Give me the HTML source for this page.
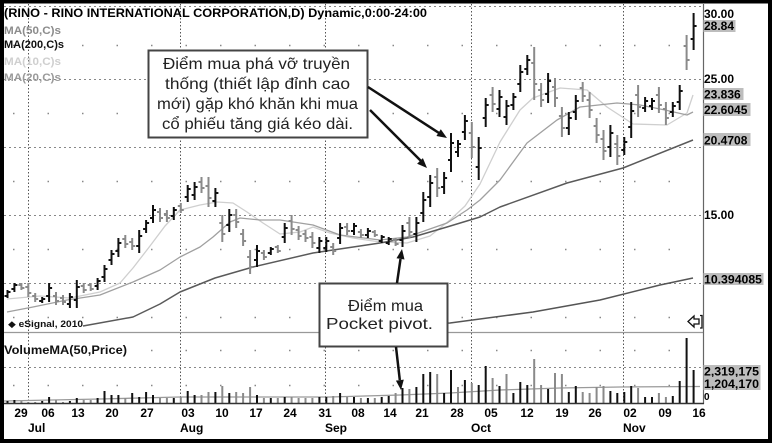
<!DOCTYPE html>
<html><head><meta charset="utf-8"><style>
html,body{margin:0;padding:0;background:#fff;}
svg{display:block;}
text{font-family:"Liberation Sans","DejaVu Sans",sans-serif;}
.b{font-weight:bold;}
</style></head><body>
<svg width="773" height="447" viewBox="0 0 773 447" xmlns="http://www.w3.org/2000/svg">
<rect x="0" y="0" width="773" height="447" fill="#fff"/>
<!-- grid -->
<g stroke="#888" stroke-width="1" fill="none">
<path d="M4 6.5H703M4 79.5H703M4 147.5H703M4 215.5H703M4 283.5H703" stroke-dasharray="2 3"/>
<path d="M13 45.5H703M13 113.5H703M13 181.5H703M13 249.5H703M13 317.5H703" stroke-dasharray="1.5 33" stroke-width="1.5"/>
<path d="M4 367.5H703" stroke-dasharray="2 3"/>
<path d="M13 350.5H703M13 385.5H703" stroke-dasharray="1.5 33" stroke-width="1.5"/>
<path d="M28.5 4V403M180.5 4V403M325.5 4V403M471.5 4V403M623.5 4V403" stroke="#555" stroke-dasharray="1.5 2"/>
</g>
<!-- moving averages -->
<g fill="none" stroke-linejoin="round">
<polyline stroke="#cfcfcf" stroke-width="1.3" points="7,299 40,296 70,298 100,292 120,283 133,268 150,246 165,226 180,210 200,205 217,202 233,203 247,212 263,223 280,234 300,232 313,227 330,233 353,238 380,242 407,243 430,236 450,220 465,206 480,184 500,142 520,110 533,98 560,88 587,90 607,107 633,124 667,125 687,113 693,95"/>
<polyline stroke="#a0a0a0" stroke-width="1.3" points="7,312 33,307 67,300 100,295 133,282 160,270 180,257 200,247 213,237 230,222 240,218 260,220 280,220 313,225 340,235 380,240 407,237 447,223 467,210 480,200 500,180 527,143 557,120 580,107 617,103 640,105 665,110 687,115 693,112"/>
<polyline stroke="#5a5a5a" stroke-width="1.5" points="83,326 133,317 160,304 180,292 215,278 253,267 313,253 380,243 413,237 447,227 480,217 500,207 567,183 623,168 693,140"/>
<polyline stroke="#555" stroke-width="1.5" points="320,328 450,323 533,312 600,300 660,285 693,278"/>
<polyline stroke="#9a9a9a" stroke-width="1.3" points="4,401 100,399 180,397 330,397 400,395 450,393 500,390 560,388 620,387 700,386.5"/>
</g>
<!-- price bars -->
<path fill="none" stroke="#8a8a8a" stroke-width="2" d="M21.4 283V290M18.4 285h3M21.4 288h3M28.3 283V297M25.3 287h3M28.3 293h3M35.2 293V302M32.2 296h3M35.2 299h3M56 292V305M53 296h3M56 301h3M63 295V305M60 298h3M63 302h3M83.7 283V293M80.7 286h3M83.7 290h3M90.7 283V291M87.7 285h3M90.7 289h3M125.3 235V248M122.3 239h3M125.3 244h3M132.2 238V250M129.2 242h3M132.2 246h3M160 208V222M157 212h3M160 218h3M166.9 210V222M163.9 214h3M166.9 218h3M180.8 203V213M177.8 206h3M180.8 210h3M201.5 177V193M198.5 182h3M201.5 188h3M208.5 177V207M205.5 186h3M208.5 198h3M222.3 215V242M219.3 223h3M222.3 234h3M236.2 209V228M233.2 215h3M236.2 222h3M243.1 229V246M240.1 234h3M243.1 241h3M250.1 250V274M247.1 257h3M250.1 267h3M263.9 250V260M260.9 253h3M263.9 257h3M277.8 245V253M274.8 247h3M277.8 251h3M291.6 215V235M288.6 221h3M291.6 229h3M298.6 226V240M295.6 230h3M298.6 236h3M305.5 230V242M302.5 234h3M305.5 238h3M312.4 232V248M309.4 237h3M312.4 243h3M333.2 243V255M330.2 247h3M333.2 251h3M347.1 223V235M344.1 227h3M347.1 231h3M360.9 229V238M357.9 232h3M360.9 235h3M374.8 230V237M371.8 232h3M374.8 235h3M395.6 238V246M392.6 240h3M395.6 244h3M409.4 217V238M406.4 223h3M409.4 232h3M437.2 168V197M434.2 177h3M437.2 188h3M471.8 122V158M468.8 133h3M471.8 147h3M492.6 87V112M489.6 95h3M492.6 104h3M534.2 47V100M531.2 63h3M534.2 84h3M541.1 83V107M538.1 90h3M541.1 100h3M555 78V107M552 87h3M555 98h3M561.9 107V137M558.9 116h3M561.9 128h3M582.7 82V102M579.7 88h3M582.7 96h3M589.6 92V118M586.6 100h3M589.6 110h3M596.6 118V143M593.6 126h3M596.6 135h3M603.5 130V160M600.5 139h3M603.5 151h3M617.3 135V165M614.3 144h3M617.3 156h3M638.1 85V117M635.1 95h3M638.1 107h3M658.9 87V113M655.9 95h3M658.9 105h3M665.9 102V125M662.9 109h3M665.9 118h3M686.6 35V70M683.6 46h3M686.6 60h3"/>
<path fill="none" stroke="#111" stroke-width="2" d="M7.5 290V298M4.5 296h3M7.5 292h3M14.4 283V292M11.4 289h3M14.4 285h3M42.2 297V303M39.2 301h3M42.2 299h3M49.1 283V302M46.1 296h3M49.1 288h3M69.9 293V308M66.9 304h3M69.9 297h3M76.8 280V308M73.8 300h3M76.8 287h3M97.6 278V290M94.6 286h3M97.6 281h3M104.5 265V282M101.5 277h3M104.5 269h3M111.5 250V265M108.5 260h3M111.5 254h3M118.4 238V257M115.4 251h3M118.4 243h3M139.2 230V253M136.2 246h3M139.2 236h3M146.1 220V233M143.1 229h3M146.1 223h3M153 205V223M150 218h3M153 210h3M173.8 207V220M170.8 216h3M173.8 210h3M187.7 185V202M184.7 197h3M187.7 189h3M194.6 182V200M191.6 195h3M194.6 187h3M215.4 188V207M212.4 201h3M215.4 193h3M229.3 209V232M226.3 225h3M229.3 215h3M257 245V267M254 260h3M257 251h3M270.8 247V255M267.8 253h3M270.8 249h3M284.7 223V243M281.7 237h3M284.7 228h3M319.4 237V253M316.4 248h3M319.4 241h3M326.3 237V252M323.3 248h3M326.3 241h3M340.1 223V244M337.1 238h3M340.1 228h3M354 223V235M351 231h3M354 226h3M367.9 228V238M364.9 235h3M367.9 231h3M381.7 235V243M378.7 241h3M381.7 237h3M388.7 237V245M385.7 243h3M388.7 239h3M402.5 225V247M399.5 240h3M402.5 231h3M416.4 217V242M413.4 234h3M416.4 223h3M423.3 192V222M420.3 213h3M423.3 200h3M430.2 175V207M427.2 197h3M430.2 183h3M444.1 172V194M441.1 187h3M444.1 178h3M451 133V172M448 160h3M451 143h3M458 140V157M455 152h3M458 144h3M464.9 115V140M461.9 132h3M464.9 121h3M478.7 137V180M475.7 167h3M478.7 148h3M485.7 98V127M482.7 118h3M485.7 105h3M499.5 90V117M496.5 109h3M499.5 97h3M506.5 100V125M503.5 117h3M506.5 106h3M513.4 93V110M510.4 105h3M513.4 97h3M520.3 65V92M517.3 84h3M520.3 72h3M527.3 55V75M524.3 69h3M527.3 60h3M548.1 73V103M545.1 94h3M548.1 81h3M568.8 112V135M565.8 128h3M568.8 118h3M575.8 95V120M572.8 112h3M575.8 101h3M610.4 125V157M607.4 147h3M610.4 133h3M624.3 137V155M621.3 150h3M624.3 142h3M631.2 102V138M628.2 127h3M631.2 111h3M645.1 97V112M642.1 108h3M645.1 101h3M652 98V110M649 106h3M652 101h3M672.8 102V117M669.8 112h3M672.8 106h3M679.7 85V110M676.7 102h3M679.7 91h3M693.6 13V50M690.6 39h3M693.6 26h3"/>
<!-- volume bars -->
<path fill="none" stroke="#8a8a8a" stroke-width="2" d="M21.4 403V401M28.3 403V402M35.2 403V402M56 403V400M63 403V402M83.7 403V400M90.7 403V400M125.3 403V398M160 403V398M166.9 403V398M180.8 403V397M201.5 403V395M208.5 403V392M222.3 403V386M236.2 403V392M243.1 403V393M250.1 403V387M263.9 403V398M277.8 403V398M291.6 403V397M298.6 403V398M305.5 403V398M312.4 403V398M333.2 403V396M347.1 403V397M360.9 403V398M374.8 403V398M395.6 403V393M409.4 403V389M437.2 403V374M458 403V387M471.8 403V383M492.6 403V378M506.5 403V374M534.2 403V359M541.1 403V385M555 403V373M561.9 403V374M582.7 403V392M589.6 403V393M596.6 403V387M603.5 403V386M638.1 403V388M658.9 403V393M665.9 403V397"/>
<path fill="none" stroke="#111" stroke-width="2" d="M7.5 403V401M14.4 403V400M42.2 403V401M49.1 403V397M69.9 403V401M76.8 403V398M97.6 403V398M104.5 403V391M111.5 403V395M118.4 403V395M132.2 403V393M139.2 403V397M146.1 403V392M153 403V395M173.8 403V398M187.7 403V391M194.6 403V395M215.4 403V392M229.3 403V393M257 403V395M270.8 403V398M284.7 403V397M319.4 403V397M326.3 403V397M340.1 403V393M354 403V397M367.9 403V398M381.7 403V397M388.7 403V396M402.5 403V388M416.4 403V387M423.3 403V374M430.2 403V372M444.1 403V393M451 403V370M464.9 403V380M478.7 403V385M485.7 403V366M499.5 403V386M513.4 403V393M520.3 403V382M527.3 403V385M548.1 403V389M568.8 403V392M575.8 403V386M610.4 403V391M617.3 403V393M624.3 403V392M631.2 403V386M645.1 403V397M652 403V397M672.8 403V396M679.7 403V381M686.6 403V338M693.6 403V370"/>
<!-- panel lines -->
<path d="M4 332.5H703" stroke="#999" stroke-width="1.2"/>
<path d="M703.5 4V404" stroke="#666" stroke-width="1.2"/>
<path d="M4 403.5H704" stroke="#333" stroke-width="1.5"/>
<!-- legend texts -->
<text x="4" y="17" class="b" font-size="12" textLength="423" lengthAdjust="spacingAndGlyphs" fill="#000">(RINO - RINO INTERNATIONAL CORPORATION,D) Dynamic,0:00-24:00</text>
<text x="4" y="34" class="b" font-size="11" textLength="57" lengthAdjust="spacingAndGlyphs" fill="#8c8c8c">MA(50,C)s</text>
<text x="4" y="48" class="b" font-size="11" textLength="60" lengthAdjust="spacingAndGlyphs" fill="#111">MA(200,C)s</text>
<text x="4" y="65" class="b" font-size="11" textLength="57" lengthAdjust="spacingAndGlyphs" fill="#cfcfcf">MA(10,C)s</text>
<text x="4" y="81" class="b" font-size="11" textLength="57" lengthAdjust="spacingAndGlyphs" fill="#9a9a9a">MA(20,C)s</text>
<text x="4" y="354" class="b" font-size="12" textLength="123" lengthAdjust="spacingAndGlyphs" fill="#111">VolumeMA(50,Price)</text>
<text x="8" y="327" class="b" font-size="9" textLength="75" lengthAdjust="spacingAndGlyphs" fill="#111">◆ eSignal, 2010</text>
<!-- right axis -->
<g class="b" font-size="12" fill="#000">
<text x="704" y="18">30.00</text>
<rect x="703.5" y="20" width="32" height="12" fill="#bdbdbd"/>
<text x="704" y="30">28.84</text>
<text x="704" y="83">25.00</text>
<rect x="703.5" y="88" width="40" height="12" fill="#bdbdbd"/>
<text x="704" y="98.5">23.836</text>
<rect x="703.5" y="103" width="47" height="13" fill="#bdbdbd"/>
<text x="704" y="114">22.6045</text>
<rect x="703.5" y="133" width="47" height="13" fill="#bdbdbd"/>
<text x="704" y="144.5">20.4708</text>
<text x="704" y="219">15.00</text>
<rect x="703.5" y="273" width="60" height="12" fill="#bdbdbd"/>
<text x="704" y="283.5" textLength="58" lengthAdjust="spacingAndGlyphs">10.394085</text>
<rect x="703.5" y="365" width="57" height="12" fill="#bdbdbd"/>
<text x="704" y="375.5" textLength="55" lengthAdjust="spacingAndGlyphs">2,319,175</text>
<rect x="703.5" y="377" width="57" height="13" fill="#bdbdbd"/>
<text x="704" y="388" textLength="55" lengthAdjust="spacingAndGlyphs">1,204,170</text>
<text x="704" y="400" font-size="10">0</text>
</g>
<!-- icon -->
<path d="M688 321.5L694 316V319H699V324H694V327Z" fill="#fff" stroke="#111" stroke-width="1.3"/>
<path d="M700 315.5H702V328H700" fill="none" stroke="#111" stroke-width="1.3"/>
<!-- date axis -->
<g class="b" font-size="12" fill="#000" text-anchor="middle">
<text x="21" y="417">29</text><text x="48" y="417">06</text><text x="78" y="417">13</text><text x="112" y="417">20</text><text x="147" y="417">27</text><text x="188" y="417">03</text><text x="222" y="417">10</text><text x="256" y="417">17</text><text x="290" y="417">24</text><text x="325" y="417">31</text><text x="358" y="417">08</text><text x="390" y="417">14</text><text x="422" y="417">21</text><text x="457" y="417">28</text><text x="491" y="417">05</text><text x="527" y="417">12</text><text x="562" y="417">19</text><text x="595" y="417">26</text><text x="630" y="417">02</text><text x="665" y="417">09</text><text x="699" y="417">16</text>
</g>
<g class="b" font-size="12" fill="#000">
<text x="28" y="432">Jul</text><text x="180" y="432">Aug</text><text x="325" y="432">Sep</text><text x="471" y="432">Oct</text><text x="623" y="432">Nov</text>
</g>
<!-- annotation 1 -->
<rect x="148.5" y="50.5" width="219" height="87" fill="#fff" stroke="#444" stroke-width="2"/>
<g font-size="16" fill="#222">
<text x="163" y="69" textLength="187" lengthAdjust="spacingAndGlyphs">Điểm mua phá vỡ truyền</text>
<text x="165" y="89" textLength="185" lengthAdjust="spacingAndGlyphs">thống (thiết lập đỉnh cao</text>
<text x="157" y="109" textLength="201" lengthAdjust="spacingAndGlyphs">mới) gặp khó khăn khi mua</text>
<text x="162" y="129" textLength="191" lengthAdjust="spacingAndGlyphs">cổ phiếu tăng giá kéo dài.</text>
</g>
<!-- annotation 2 -->
<rect x="319.5" y="283.5" width="128" height="63" fill="#fff" stroke="#444" stroke-width="2"/>
<g font-size="16" fill="#222">
<text x="348" y="311" textLength="75" lengthAdjust="spacingAndGlyphs">Điểm mua</text>
<text x="326" y="329" textLength="107" lengthAdjust="spacingAndGlyphs">Pocket pivot.</text>
</g>
<!-- arrows -->
<g stroke="#111" stroke-width="2.5" fill="none">
<path d="M368 87L439 133"/>
<path d="M370 110L421 161"/>
<path d="M397 283L400.5 259"/>
<path d="M396 347L399.8 380"/>
</g>
<g fill="#111">
<polygon points="447,138 436.4,136 440.8,129.2"/>
<polygon points="427,168 417.1,163.7 422.9,158.1"/>
<polygon points="402,249 404.5,259.5 396.5,258.3"/>
<polygon points="401,390 395.9,380.6 403.8,379.6"/>
</g>
<!-- outer frame -->
<rect x="2" y="1.5" width="768" height="439.5" fill="none" stroke="#000" stroke-width="4"/>
</svg>
</body></html>
